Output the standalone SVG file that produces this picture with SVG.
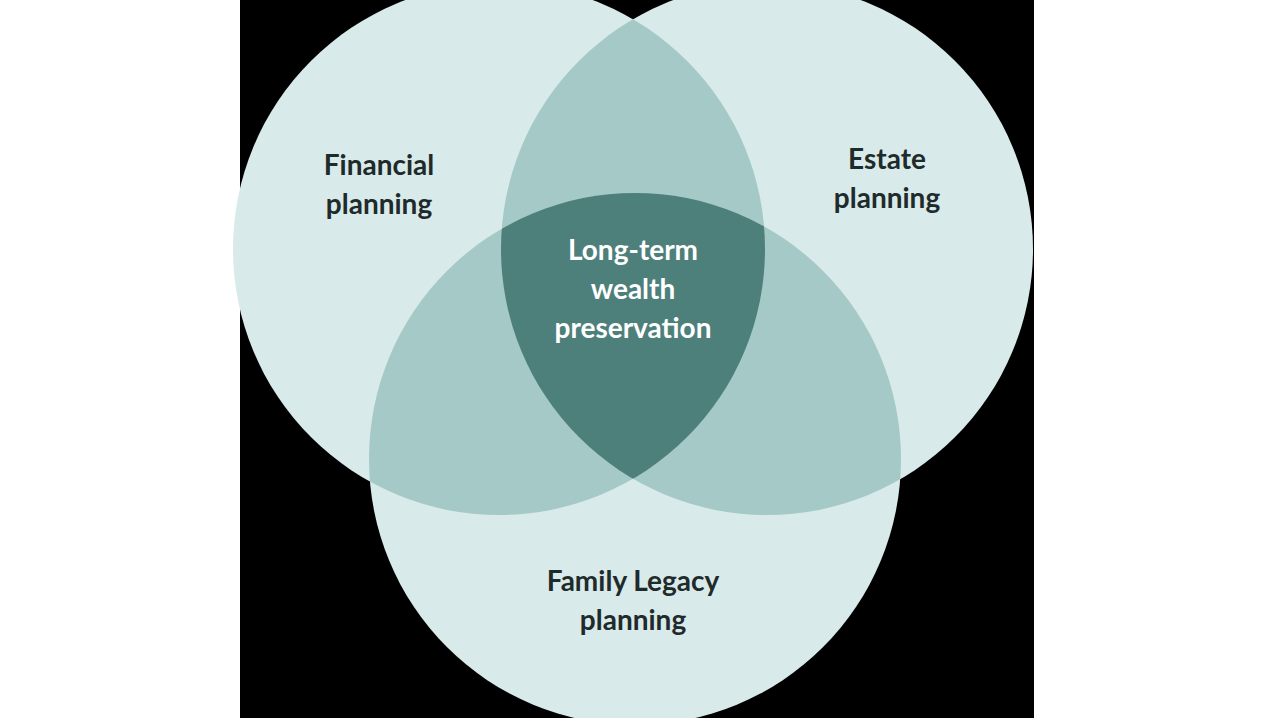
<svg xmlns="http://www.w3.org/2000/svg" width="1275" height="720" viewBox="0 0 1275 720">
<style>
.c{fill:#d8eaea}
.two{fill:#a5c9c6}
.three{fill:#4e807b}
.t{font-family:Lato,"Liberation Sans",sans-serif;font-weight:bold;font-size:28px;fill:#1f2b2b;text-anchor:middle}
.w{fill:#ffffff}
</style>
<defs>
<clipPath id="cl"><circle cx="499" cy="249" r="266"/></clipPath>
<clipPath id="cr"><circle cx="767" cy="249" r="266"/></clipPath>
<clipPath id="cb"><circle cx="635" cy="459" r="266"/></clipPath>
</defs>
<rect width="1275" height="720" fill="#ffffff"/>
<rect x="240" y="0" width="794" height="718" fill="#000000"/>
<g clip-path="url(#black)">
<g id="financial"><circle class="c" cx="499" cy="249" r="266"/></g>
<g id="estate"><circle class="c" cx="767" cy="249" r="266"/></g>
<g id="family"><circle class="c" cx="635" cy="459" r="266"/></g>
</g>
<g id="overlaps">
<g clip-path="url(#cl)"><circle class="two" cx="767" cy="249" r="266"/><circle class="two" cx="635" cy="459" r="266"/></g>
<g clip-path="url(#cr)"><circle class="two" cx="635" cy="459" r="266"/></g>
<g clip-path="url(#cl)"><g clip-path="url(#cr)"><circle class="three" cx="635" cy="459" r="266"/></g></g>
</g>
<rect x="0" y="718" width="1275" height="2" fill="#ffffff"/>
<g id="labels">
<text class="t" x="379" y="175">Financial</text>
<text class="t" x="379" y="214">planning</text>
<text class="t" x="887" y="169">Estate</text>
<text class="t" x="887" y="208">planning</text>
<text class="t" x="633" y="591">Family Legacy</text>
<text class="t" x="633" y="630">planning</text>
<text class="t w" x="633" y="260">Long-term</text>
<text class="t w" x="633" y="299">wealth</text>
<text class="t w" x="633" y="338">preservation</text>
</g>
</svg>
